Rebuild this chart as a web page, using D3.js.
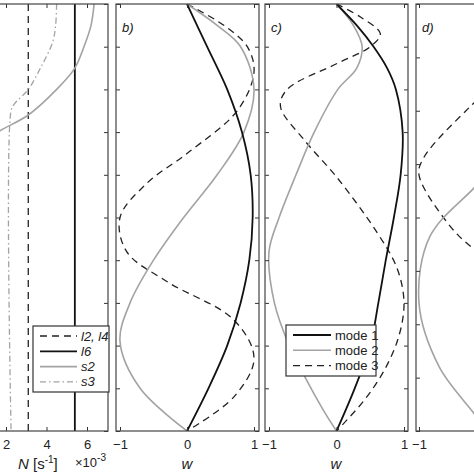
<!DOCTYPE html>
<html><head><meta charset="utf-8">
<script src="https://cdn.jsdelivr.net/npm/d3@7"></script>
<style>
body{margin:0;background:#fff}
text{font-family:"Liberation Sans",Arial,sans-serif;fill:#222}
</style></head><body>
<svg id="chart" width="474" height="474"></svg>
<script>
// normalised depth z (0 top, 1 bottom) vs value
const nL24 = [[0,3.1],[1,3.1]];
const nL6 = [[0,5.4],[1,5.4]];
const nS2 = [[0,6.35],[0.05,6.2],[0.1,5.85],[0.15,5.4],[0.2,4.5],[0.26,3.1],[0.3,1.6],[0.34,0.5]];
const nS3 = [[0,4.5],[0.05,4.45],[0.09,4.3],[0.15,3.7],[0.2,3.1],[0.235,2.4],[0.25,2.25],[1,2.25]];

const bMode1 = [[0,0],[0.1,0.3],[0.2,0.6],[0.3,0.82],[0.4,0.95],[0.5,0.98],[0.6,0.93],[0.7,0.8],[0.8,0.6],[0.9,0.32],[1,0]];
const bMode2 = [[0,0],[0.05,0.45],[0.1,0.8],[0.2,1.0],[0.3,0.85],[0.4,0.45],[0.5,-0.05],[0.6,-0.5],[0.7,-0.85],[0.79,-1.0],[0.9,-0.7],[1,0]];
const bMode3 = [[0,0],[0.05,0.55],[0.1,0.9],[0.16,1.0],[0.25,0.75],[0.35,0.0],[0.42,-0.6],[0.5,-1.0],[0.58,-0.9],[0.65,-0.3],[0.74,0.7],[0.83,1.0],[0.92,0.7],[1,0]];

const cMode1 = [[0,0],[0.05,0.3],[0.1,0.55],[0.15,0.75],[0.2,0.88],[0.3,0.98],[0.4,0.95],[0.5,0.85],[0.6,0.73],[0.7,0.62],[0.8,0.5],[0.9,0.27],[1,0]];
const cMode2 = [[0,0],[0.05,0.25],[0.1,0.38],[0.15,0.3],[0.2,0.02],[0.3,-0.33],[0.4,-0.6],[0.5,-0.85],[0.58,-1.0],[0.7,-0.92],[0.8,-0.7],[0.87,-0.48],[0.95,-0.2],[1,0]];
const cMode3 = [[0,0],[0.03,0.35],[0.07,0.65],[0.1,0.5],[0.14,0.0],[0.2,-0.73],[0.24,-0.83],[0.32,-0.47],[0.405,0],[0.535,0.6],[0.62,0.9],[0.7,1.0],[0.78,0.92],[0.86,0.7],[0.93,0.4],[1,0]];

const dMode2 = [[0.35,0.3],[0.43,-0.18],[0.545,-0.84],[0.7,-1.0],[0.85,-0.7],[0.96,-0.18],[1,0]];
const dMode3 = [[0.15,0.4],[0.24,-0.24],[0.36,-0.93],[0.4,-1.0],[0.52,-0.54],[0.575,-0.18],[0.65,0.5]];

const wTicks = [-1, 0, 1];
const nTicks = [0, 2, 4, 6];
const legendA = ['l2, l4', 'l6', 's2', 's3'];
const legendC = ['mode 1', 'mode 2', 'mode 3'];

const svg = d3.select('#chart');
const yTop = 4, yBottom = 431;
const y = d3.scaleLinear().domain([0, 1]).range([yTop, yBottom]);
const yD = d3.scaleLinear().domain([0, 8]).range([yTop, yBottom]);
const grey = '#a3a3a3';
const styles = {
  dash: {stroke: '#222', dash: '7,5', w: 1.3},
  solid: {stroke: '#111', dash: null, w: 1.8},
  grey: {stroke: grey, dash: null, w: 1.6},
  dashdot: {stroke: grey, dash: '6,3,1.5,3', w: 1.3}
};

const panels = [
  {x0: -35, x1: 108, x: d3.scaleLinear().domain([0, 7]).range([-34.5, 107.25]), ticks: nTicks, yS: y, yTicks: d3.range(0, 1.01, 0.1),
   lines: [[nL24, 'dash'], [nL6, 'solid'], [nS2, 'grey'], [nS3, 'dashdot']]},
  {x0: 116, x1: 259, x: d3.scaleLinear().domain([-1, 1]).range([120, 254]), ticks: wTicks, yS: y, yTicks: d3.range(0, 1.01, 0.1), label: 'b)',
   lines: [[bMode3, 'dash'], [bMode2, 'grey'], [bMode1, 'solid']]},
  {x0: 265, x1: 408, x: d3.scaleLinear().domain([-1, 1]).range([269, 404]), ticks: wTicks, yS: y, yTicks: d3.range(0, 1.01, 0.1), label: 'c)',
   lines: [[cMode3, 'dash'], [cMode2, 'grey'], [cMode1, 'solid']]},
  {x0: 416, x1: 559, x: d3.scaleLinear().domain([-1, 1]).range([419, 554]), ticks: wTicks, yS: yD, yTicks: d3.range(0, 9), label: 'd)',
   lines: [[dMode3, 'dash'], [dMode2, 'grey']]}
];

panels.forEach((p, i) => {
  const g = svg.append('g');
  const cid = 'clip' + i;
  svg.append('clipPath').attr('id', cid).append('rect')
    .attr('x', p.x0).attr('y', yTop).attr('width', p.x1 - p.x0).attr('height', yBottom - yTop);

  const line = d3.line().x(d => p.x(d[1])).y(d => y(d[0])).curve(d3.curveCatmullRom);
  p.lines.forEach(([data, s]) => {
    const st = styles[s];
    g.append('path').datum(data).attr('d', line).attr('clip-path', `url(#${cid})`)
      .attr('fill', 'none').attr('stroke', st.stroke).attr('stroke-width', st.w)
      .attr('stroke-dasharray', st.dash);
  });

  // axes: ticks inward on all sides
  g.append('g').attr('transform', `translate(0,${yBottom})`)
    .call(d3.axisBottom(p.x).tickValues(p.ticks).tickSize(-4).tickPadding(9).tickFormat(d3.format('d')))
    .call(a => a.select('.domain').remove());
  g.append('g').attr('transform', `translate(0,${yTop})`)
    .call(d3.axisTop(p.x).tickValues(p.ticks).tickSize(-4).tickFormat(''))
    .call(a => a.select('.domain').remove());
  g.append('g').attr('transform', `translate(${p.x0},0)`)
    .call(d3.axisLeft(p.yS).tickValues(p.yTicks).tickSize(-4).tickFormat(''))
    .call(a => a.select('.domain').remove());
  g.append('g').attr('transform', `translate(${p.x1},0)`)
    .call(d3.axisRight(p.yS).tickValues(p.yTicks).tickSize(-4).tickFormat(''))
    .call(a => a.select('.domain').remove());
  g.selectAll('.tick line').attr('stroke', '#333');
  g.selectAll('.tick text').attr('font-size', 13).style('font-family', '"Liberation Sans",Arial,sans-serif').attr('fill', '#222');

  g.append('rect').attr('x', p.x0).attr('y', yTop).attr('width', p.x1 - p.x0).attr('height', yBottom - yTop)
    .attr('fill', 'none').attr('stroke', '#444').attr('stroke-width', 1.2);

  if (p.label) g.append('text').attr('x', p.x0 + 6).attr('y', 32).attr('font-size', 13)
    .attr('font-style', 'italic').text(p.label);
});

// axis titles
svg.append('text').attr('x', 187).attr('y', 469).attr('text-anchor', 'middle')
  .attr('font-size', 15).attr('font-style', 'italic').text('w');
svg.append('text').attr('x', 336).attr('y', 469).attr('text-anchor', 'middle')
  .attr('font-size', 15).attr('font-style', 'italic').text('w');
const nl = svg.append('text').attr('x', 18).attr('y', 469).attr('font-size', 15);
nl.append('tspan').attr('font-style', 'italic').text('N');
nl.append('tspan').text(' [s');
nl.append('tspan').attr('font-size', 10).attr('dy', -6).text('-1');
nl.append('tspan').attr('dy', 6).text(']');
const ex = svg.append('text').attr('x', 75).attr('y', 467).attr('font-size', 13);
ex.append('tspan').text('\u00d710');
ex.append('tspan').attr('font-size', 10).attr('dy', -6).text('-3');

// legends
function legend(x, yy, w, h, items, kinds, italic, lx0, lx1) {
  const g = svg.append('g');
  g.append('rect').attr('x', x).attr('y', yy).attr('width', w).attr('height', h)
    .attr('fill', '#fff').attr('stroke', '#333').attr('stroke-width', 1.2);
  items.forEach((t, i) => {
    const st = styles[kinds[i]];
    const cy = yy + 10 + i * 15.3;
    g.append('line').attr('x1', x + lx0).attr('x2', x + lx1).attr('y1', cy).attr('y2', cy)
      .attr('stroke', st.stroke).attr('stroke-width', st.w).attr('stroke-dasharray', st.dash);
    g.append('text').attr('x', x + lx1 + 4).attr('y', cy + 4.5).attr('font-size', 13)
      .attr('font-style', italic ? 'italic' : null).text(t);
  });
}
legend(33, 326, 76, 66, legendA, ['dash', 'solid', 'grey', 'dashdot'], true, 7, 44);
legend(286, 325, 90, 51, legendC, ['solid', 'grey', 'dash'], false, 7, 45);
</script></body></html>
